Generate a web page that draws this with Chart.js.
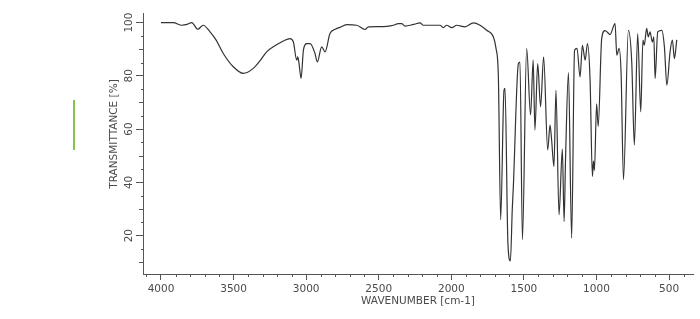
<!DOCTYPE html>
<html><head><meta charset="utf-8">
<script src="https://cdn.jsdelivr.net/npm/chart.js@4/dist/chart.umd.min.js"></script>
<style>
html,body{margin:0;padding:0;background:#fff;}
#wrap{position:relative;width:700px;height:319px;}
#mark{position:absolute;left:73px;top:100px;width:2px;height:50px;background:#86c24f;}
</style></head><body>
<div id="wrap"><canvas id="c" width="700" height="319" style="width:700px;height:319px"></canvas><div id="mark"></div></div>
<script>
const wavenumbers = [4000,3915,3857,3820,3788,3747,3709,3662,3620,3571,3502,3433,3364,3320,3272,3210,3157,3111,3088,3065,3058,3049,3035,3019,2996,2973,2939,2923,2893,2870,2836,2800,2767,2721,2652,2594,2571,2500,2445,2399,2365,2342,2319,2260,2215,2193,2078,2055,2032,1997,1963,1905,1848,1802,1756,1710,1692,1676,1660,1637,1630,1610,1593,1580,1573,1538,1527,1510,1481,1454,1436,1424,1405,1385,1364,1336,1320,1309,1293,1279,1258,1235,1223,1213,1193,1171,1151,1134,1113,1097,1078,1062,1044,1028,1021,1014,999,988,964,941,918,907,872,860,844,830,814,780,757,739,716,695,680,671,654,643,631,615,605,596,578,550,532,515,493,477,463,447];
const transmittance = [100,100,99,99.3,100,97.5,99,96.5,93.4,88.4,83.4,80.9,82.8,85.5,89,91.5,93.1,94,92.7,85.9,87.1,84.6,79,89.6,92.1,92.1,88.4,85.2,90.9,89,95.9,97.5,98.2,99.2,99,97.4,98.4,98.5,98.6,99,99.6,99.6,98.7,99.3,99.9,99,99,98.1,99,98.1,99,98.4,99.9,99,97.1,94.6,90.3,80,26,74.6,75.3,17,10.5,30,38,84.6,85.2,18.5,90.3,65.3,85.9,59.7,84.6,68.4,87.1,52.2,61.5,55.9,45.9,74.6,27.8,52.5,25.3,49,81.2,19.1,89.6,90.3,79.6,91.5,85.9,92.1,78.4,42.2,48,44.5,69.5,61,94,97,96,95.5,99.6,87.8,90.3,80.3,41,97.1,85.2,54,95.9,66.5,93.4,91.5,97.8,94.6,96.5,92.7,94.6,79,96.5,97.1,90.9,76.5,89,93.4,86.5,93.5];
const xTickValues = [4000,3500,3000,2500,2000,1500,1000,500];
const yTickValues = [20,40,60,80,100];
const xAxisTitle = 'WAVENUMBER [cm-1]';
const yAxisTitle = 'TRANSMITTANCE [%]';

const FONT = "'DejaVu Sans', Verdana, sans-serif";
const TEXT = '#4a4a4a';
const AXIS = '#555';

const minorTicks = {
  id: 'minorTicks',
  afterDraw(chart) {
    const ctx = chart.ctx, xs = chart.scales.x, ys = chart.scales.y;
    ctx.save();
    ctx.strokeStyle = AXIS; ctx.lineWidth = 1;
    ctx.beginPath();
    for (let v = 100; v <= 4100; v += 100) {
      if (v % 500 === 0 || v < xs.min || v > xs.max) continue;
      const px = Math.round(xs.getPixelForValue(v)) + 0.5;
      ctx.moveTo(px, ys.bottom); ctx.lineTo(px, ys.bottom + 3);
    }
    for (let v = 10; v <= 100; v += 5) {
      if (v % 20 === 0 || v < ys.min) continue;
      const py = Math.round(ys.getPixelForValue(v)) + 0.5;
      const len = v % 10 === 0 ? 4 : 2;
      ctx.moveTo(xs.left, py); ctx.lineTo(xs.left - len, py);
    }
    ctx.stroke();
    ctx.fillStyle = TEXT;
    ctx.font = '10.5px ' + FONT;
    ctx.textAlign = 'center'; ctx.textBaseline = 'middle';
    ctx.translate(114, 134);
    ctx.rotate(-Math.PI / 2);
    ctx.fillText(yAxisTitle, 0, 0);
    ctx.restore();
  }
};

new Chart(document.getElementById('c'), {
  type: 'line',
  data: {
    datasets: [{
      data: wavenumbers.map((w, i) => ({x: w, y: transmittance[i]})),
      borderColor: '#333',
      borderWidth: 1.2,
      pointRadius: 0,
      fill: false,
      cubicInterpolationMode: 'monotone'
    }]
  },
  options: {
    responsive: false,
    animation: false,
    layout: {padding: {left: 103, right: 7, top: 13, bottom: 7}},
    plugins: {legend: {display: false}, tooltip: {enabled: false}},
    scales: {
      x: {
        type: 'linear', reverse: true, min: 335, max: 4124,
        afterBuildTicks: s => { s.ticks = xTickValues.map(v => ({value: v})); },
        afterFit: s => { s.height = 38; },
        grid: {display: true, drawOnChartArea: false, drawTicks: true, tickLength: 6, color: AXIS, tickColor: AXIS},
        border: {display: true, color: AXIS, width: 1},
        ticks: {autoSkip: false, maxRotation: 0, minRotation: 0, padding: 3, color: TEXT, font: {family: FONT, size: 10.5}, callback: v => String(v)},
        title: {display: true, text: xAxisTitle, color: TEXT, font: {family: FONT, size: 10.5}, padding: {top: 0, bottom: 4}}
      },
      y: {
        type: 'linear', min: 5.6, max: 103.6,
        afterBuildTicks: s => { s.ticks = yTickValues.map(v => ({value: v})); },
        afterFit: s => { s.width = 40; },
        grid: {display: true, drawOnChartArea: false, drawTicks: true, tickLength: 7, color: AXIS, tickColor: AXIS},
        border: {display: true, color: AXIS, width: 1},
        ticks: {autoSkip: false, minRotation: 90, maxRotation: 90, crossAlign: 'center', padding: -3.5, color: TEXT, font: {family: FONT, size: 10.5}, callback: v => String(v)},
        title: {display: false}
      }
    }
  },
  plugins: [minorTicks]
});
</script>
</body></html>
